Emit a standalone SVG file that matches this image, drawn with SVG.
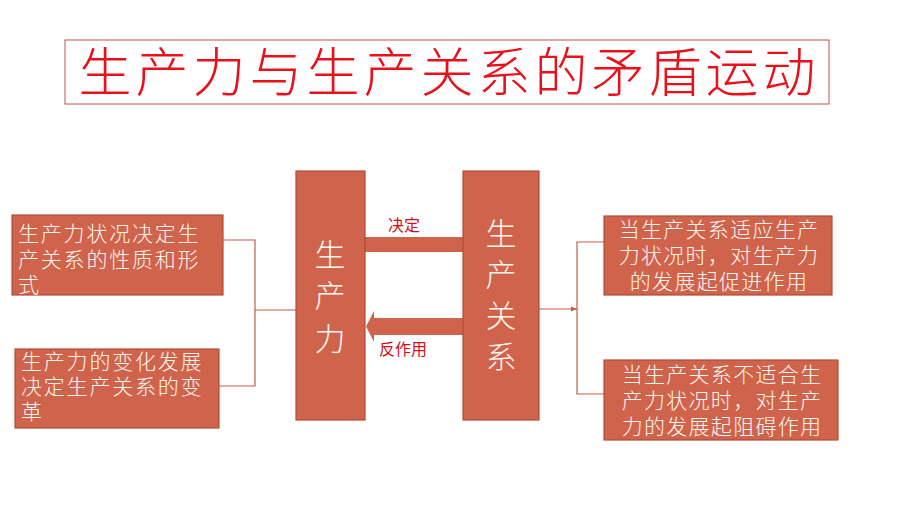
<svg xmlns="http://www.w3.org/2000/svg" width="920" height="517" viewBox="0 0 920 517">
<defs>
<style>
.box{fill:#D0634B;stroke:#B04E38;stroke-width:1.2}
.t{font-family:"Noto Sans CJK SC","Noto Sans",sans-serif;fill:#FFF6F0;font-size:21px;font-weight:300;letter-spacing:1.8px}
.r{font-family:"Noto Sans CJK SC","Noto Sans",sans-serif;fill:#FFF6F0;font-size:21px;font-weight:300;letter-spacing:1.3px;text-anchor:middle}
.big{font-family:"Noto Sans CJK SC",sans-serif;fill:#FFF6F0;font-size:31px;font-weight:300;text-anchor:middle}
.lbl{font-family:"Noto Sans CJK SC",sans-serif;fill:#D0101C;font-size:16px;text-anchor:middle}
.ln{fill:none;stroke:#C65B47;stroke-width:1.2}
</style>
<marker id="ah" viewBox="0 0 10 10" refX="10" refY="5" markerWidth="6" markerHeight="6" orient="auto" markerUnits="userSpaceOnUse">
<path d="M0,1 L10,5 L0,9 z" fill="#C65B47"/>
</marker>
</defs>
<rect width="920" height="517" fill="#FFFFFF"/>
<g id="title">
<rect x="65" y="40" width="764" height="64" fill="#FFFFFF" stroke="#C0504D" stroke-width="1"/>
<text x="449" y="92" text-anchor="middle" font-family="'Noto Sans CJK SC',serif" font-size="53" font-weight="300" fill="#E8101A" letter-spacing="4">生产力与生产关系的矛盾运动</text>
</g>
<g id="connectors">
<polyline class="ln" points="223,240 255,240 255,386 219,386"/>
<line class="ln" x1="255" y1="310" x2="296" y2="310"/>
<rect x="365" y="237" width="98" height="15" fill="#D0634B"/>
<path d="M463,318 L374,318 L374,311 L366,326.5 L374,342 L374,335 L463,335 z" fill="#D0634B"/>
<line class="ln" x1="539" y1="309" x2="577" y2="309" marker-end="url(#ah)"/>
<polyline class="ln" points="604,242 577,242 577,394 604,394"/>
</g>
<g id="label-jueding"><text class="lbl" x="404" y="231">决定</text></g>
<g id="label-fanzuoyong"><text class="lbl" x="403" y="355">反作用</text></g>
<g id="node-scl">
<rect class="box" x="296" y="171" width="69" height="249"/>
<text class="big"><tspan x="330" y="266">生</tspan><tspan x="330" y="307">产</tspan><tspan x="330" y="350">力</tspan></text>
</g>
<g id="node-scgx">
<rect class="box" x="463" y="171" width="76" height="249"/>
<text class="big"><tspan x="501" y="245">生</tspan><tspan x="501" y="286">产</tspan><tspan x="501" y="327">关</tspan><tspan x="501" y="368">系</tspan></text>
</g>
<g id="node-left1">
<rect class="box" x="12" y="215" width="211" height="80"/>
<text class="t"><tspan x="18" y="241">生产力状况决定生</tspan><tspan x="18" y="267">产关系的性质和形</tspan><tspan x="18" y="292">式</tspan></text>
</g>
<g id="node-left2">
<rect class="box" x="15" y="349" width="204" height="79"/>
<text class="t"><tspan x="21" y="369">生产力的变化发展</tspan><tspan x="21" y="394">决定生产关系的变</tspan><tspan x="21" y="419">革</tspan></text>
</g>
<g id="node-right1">
<rect class="box" x="604" y="216" width="228" height="79"/>
<text class="r"><tspan x="719" y="237">当生产关系适应生产</tspan><tspan x="719" y="263">力状况时，对生产力</tspan><tspan x="719" y="289">的发展起促进作用</tspan></text>
</g>
<g id="node-right2">
<rect class="box" x="604" y="360" width="234" height="80"/>
<text class="r"><tspan x="722" y="382">当生产关系不适合生</tspan><tspan x="722" y="408">产力状况时，对生产</tspan><tspan x="722" y="434">力的发展起阻碍作用</tspan></text>
</g>
</svg>
